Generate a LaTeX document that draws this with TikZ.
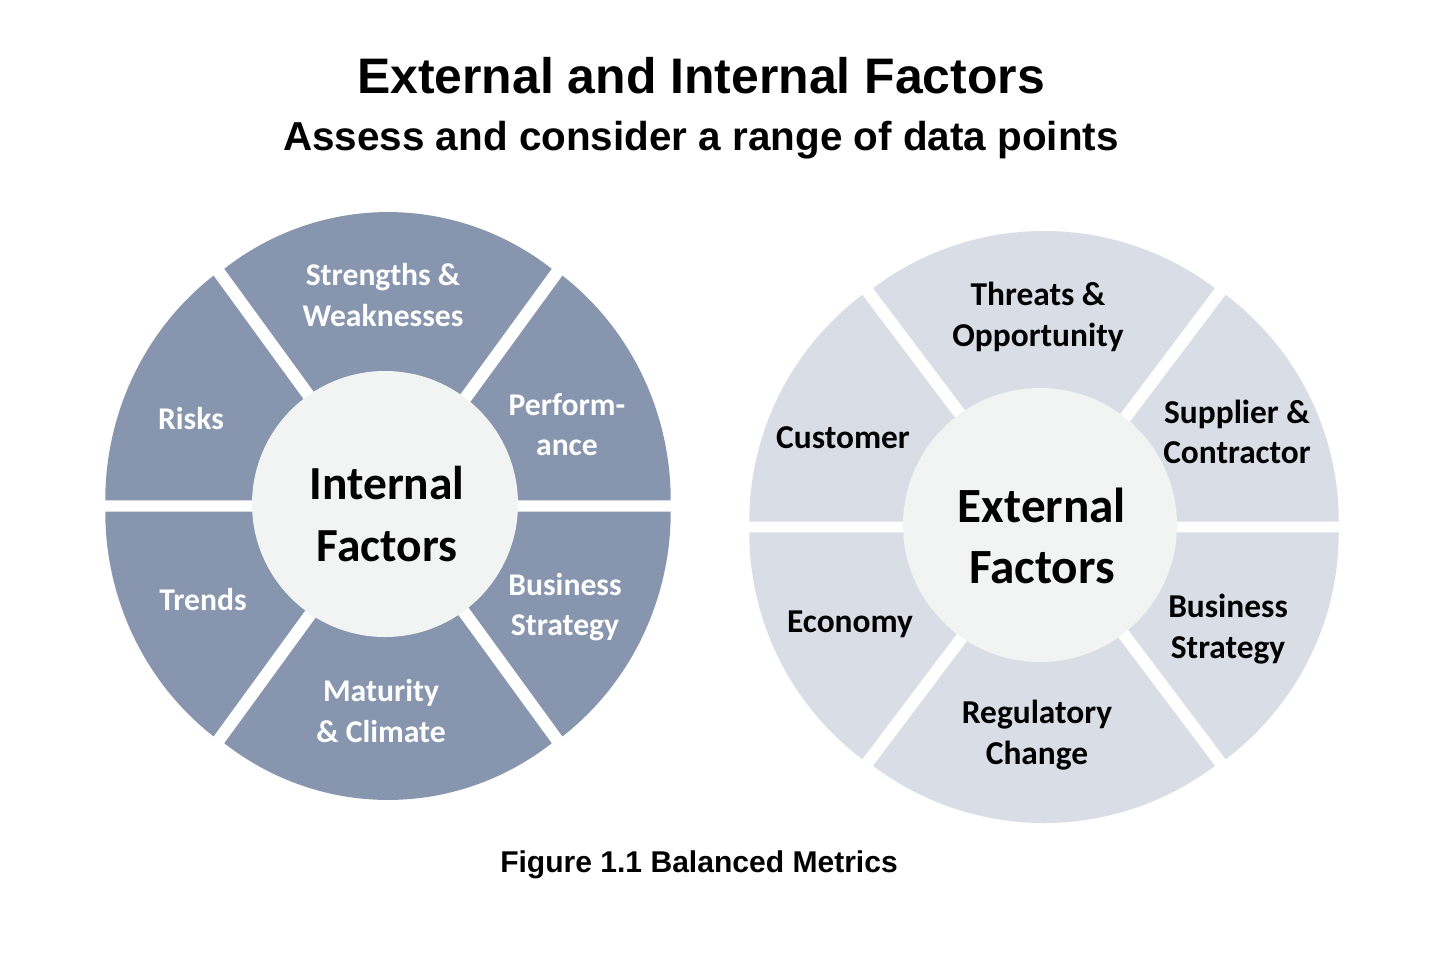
\documentclass[tikz,border=0pt]{standalone}
\usepackage{fontspec}
\setmainfont{Liberation Sans}
\newfontfamily\calibri{Carlito}
\usepackage{tikz}
\usetikzlibrary{positioning}

\definecolor{intblue}{HTML}{8796AE}
\definecolor{extgrey}{HTML}{D8DDE6}
\definecolor{hubgrey}{HTML}{F2F3F3}

\begin{document}
\begin{tikzpicture}[
            x=0.1mm, y=0.1mm,
            intseg/.style={fill=intblue},
            extseg/.style={fill=extgrey},
            hub/.style={circle, fill=hubgrey, inner sep=0pt},
            hubtext/.style={align=center, font=\calibri\bfseries\fontsize{13.5}{17.4}\selectfont},
            intlabel/.style={align=center, text=white, font=\calibri\bfseries\fontsize{9}{11.4}\selectfont},
            extlabel/.style={align=center, text=black, font=\calibri\bfseries\fontsize{9.5}{11.6}\selectfont},
        ]
            \fill[white] (0,0) rectangle (1440,956);
            \useasboundingbox (0,0) rectangle (1440,956);

            % --- Titulos ---
            \node[font=\bfseries\fontsize{14.2}{17}\selectfont] (title) at (701,880) {External and Internal Factors};
            \node[font=\bfseries\fontsize{11.5}{14}\selectfont] (subtitle) at (701,816) {Assess and consider a range of data points};

            % --- Rueda izquierda: segmentos separados ---
            \begin{scope}[shift={(388,450)}, yscale=1.035]
                \foreach \a/\b in {0/53, 53/127, 127/180, 180/233, 233/307, 307/360} {
                    \pgfmathsetmacro\m{(\a+\b)/2}
                    \fill[intseg] (\m:12) -- ++(\a:272) arc[start angle=\a, end angle=\b, radius=272] -- cycle;
                }
            \end{scope}

            % --- Rueda derecha: segmentos separados ---
            \begin{scope}[shift={(1044,429)}]
                \foreach \a/\b in {0/53, 53/127, 127/180, 180/233, 233/307, 307/360} {
                    \pgfmathsetmacro\m{(\a+\b)/2}
                    \fill[extseg] (\m:12) -- ++(\a:284) arc[start angle=\a, end angle=\b, radius=284] -- cycle;
                }
            \end{scope}

            % --- Circulos centrales ---
            \node[hub, minimum size=26.6mm] (inthub) at (385,452) {};
            \node[hub, minimum size=27.4mm] (exthub) at (1040,431) {};
            \node[hubtext] (inttext) at (387,442) {Internal\\Factors};
            \node[hubtext, font=\calibri\bfseries\fontsize{14}{17.2}\selectfont] (exttext) at (1042,420) {External\\Factors};

            % --- Etiquetas internas ---
            \node[intlabel] (strengths) at (383,661) {Strengths \&\\Weaknesses};
            \node[intlabel] (risks) at (191,537) {Risks};
            \node[intlabel] (perform) at (567,531) {Perform-\\ance};
            \node[intlabel] (trends) at (203,357) {Trends};
            \node[intlabel] (intstrat) at (565,349) {Business\\Strategy};
            \node[intlabel] (maturity) at (381,245) {Maturity\\\& Climate};

            % --- Etiquetas externas ---
            \node[extlabel] (threats) at (1038,639) {Threats \&\\Opportunity};
            \node[extlabel] (customer) at (843,518) {Customer};
            \node[extlabel] (supplier) at (1237,524) {Supplier \&\\Contractor};
            \node[extlabel] (economy) at (850,332) {Economy};
            \node[extlabel] (extstrat) at (1228,327) {Business\\Strategy};
            \node[extlabel] (regulatory) at (1037,221) {Regulatory\\Change};

            % --- Pie de figura ---
            \node[font=\bfseries\fontsize{8.55}{10}\selectfont] (caption) at (699,91) {Figure 1.1 Balanced Metrics};
        \end{tikzpicture}
\end{document}
